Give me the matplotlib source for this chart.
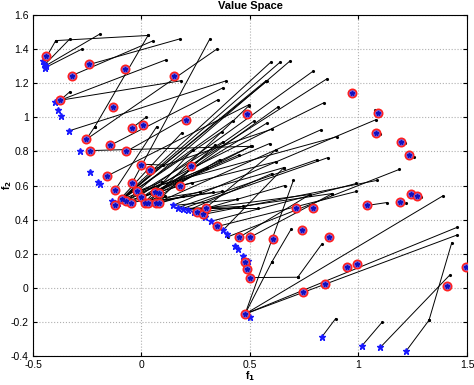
import matplotlib
matplotlib.use("Agg")
import matplotlib.pyplot as plt

# ---- data (f1, f2) ----
front_f1 = [-0.455, -0.45, -0.445, -0.44, -0.40, -0.385, -0.37, -0.335, -0.285, -0.235, -0.20, -0.19,
            -0.135, -0.12, -0.11, 0.145, 0.168, 0.19, 0.214, 0.24, 0.27, 0.293, 0.32, 0.347, 0.375,
            0.395, 0.43, 0.445, 0.467, 0.49, 0.48, 0.50, 0.83, 1.016, 1.10, 1.22]
front_f2 = [1.33, 1.31, 1.29, 1.30, 1.09, 1.04, 1.01, 0.92, 0.80, 0.68, 0.62, 0.61,
            0.51, 0.495, 0.50, 0.483, 0.47, 0.465, 0.454, 0.445, 0.436, 0.413, 0.39, 0.36, 0.337,
            0.313, 0.243, 0.225, 0.185, 0.155, -0.16, -0.17, -0.29, -0.34, -0.35, -0.37]

circ_f1 = [-0.44, -0.24, -0.32, -0.075, 0.15, -0.375, -0.13, -0.045, 0.005, 0.205, -0.255, -0.235,
           -0.145, -0.07, 0.0, 0.04, 0.227, -0.16, -0.045, 0.177, -0.12, -0.02, 0.06, 0.08, 0.0,
           -0.09, -0.07, -0.05, -0.12, 0.015, 0.03, 0.065, 0.08, 0.255, 0.283, 0.297, 0.35, 0.45,
           0.50, 0.477, 0.486, 0.50, 0.477, 0.97, 1.09, 1.08, 1.197, 1.235, 0.486, 1.24, 1.27,
           1.19, 1.04, 0.712, 0.79, 0.74, 0.865, 0.605, 0.947, 0.993, 1.497, 1.41, 0.846, 0.745]
circ_f2 = [1.36, 1.31, 1.245, 1.285, 1.24, 1.10, 1.06, 0.935, 0.955, 0.985, 0.87, 0.805,
           0.835, 0.80, 0.72, 0.69, 0.717, 0.655, 0.615, 0.597, 0.575, 0.565, 0.56, 0.555, 0.53,
           0.52, 0.51, 0.50, 0.485, 0.50, 0.50, 0.495, 0.495, 0.442, 0.43, 0.47, 0.36, 0.296,
           0.296, 0.15, 0.11, 0.06, -0.154, 1.14, 1.027, 0.91, 0.857, 0.78, 1.02, 0.553, 0.54,
           0.506, 0.483, 0.47, 0.47, 0.337, 0.30, 0.285, 0.12, 0.138, 0.12, 0.009, 0.02, -0.026]

seg_f1_from = [-0.44, -0.395, -0.445, -0.445, -0.445, 0.03, -0.215, -0.32, -0.375, -0.375, -0.24,
               -0.045, -0.335, -0.255, -0.375, -0.045, -0.235,
               -0.12, -0.12, -0.09, -0.07, -0.05, 0.0, -0.09, -0.07, 0.015, 0.03, 0.065, 0.145,
               -0.02, 0.06, 0.08, -0.05, 0.168, 0.19, 0.08, 0.40, 0.32, 0.283, 0.214, 0.35, 0.255,
               -0.12, -0.12, -0.09, -0.07, 0.0, 0.015, 0.03, 0.065, -0.12, -0.05, 0.015, 0.03,
               0.145, 0.168, 0.19, 0.065, 0.08, -0.02, 0.0, -0.145, -0.07, -0.16,
               0.97, 1.09, 1.08, 1.197, 1.235, 1.27, 1.19, 1.04,
               0.477, 0.477, 0.477, 0.50, 0.72, 0.477, 0.60, 0.477, 0.83, 1.016, 1.10, 1.22, 1.325,
               0.297, 0.45, 0.50, 0.375,
               -0.12, -0.09, 0.0, 0.04, 0.177, 0.227, 0.214, 0.24]
seg_f2_from = [1.35, 1.45, 1.31, 1.30, 1.29, 1.48, 0.945, 1.245, 1.10, 1.10, 1.31,
               0.61, 0.92, 0.87, 1.10, 0.935, 0.805,
               0.49, 0.49, 0.52, 0.51, 0.50, 0.53, 0.52, 0.51, 0.50, 0.50, 0.495, 0.483,
               0.565, 0.56, 0.555, 0.50, 0.47, 0.465, 0.495, 0.30, 0.39, 0.43, 0.454, 0.36, 0.44,
               0.577, 0.49, 0.52, 0.51, 0.53, 0.50, 0.50, 0.495, 0.49, 0.50, 0.50, 0.50,
               0.483, 0.47, 0.465, 0.495, 0.495, 0.565, 0.725, 0.835, 0.80, 0.655,
               1.14, 1.027, 0.91, 0.857, 0.78, 0.54, 0.506, 0.483,
               -0.154, -0.154, -0.154, 0.06, 0.062, -0.154, 0.15, -0.154, -0.29, -0.34, -0.35, -0.37, -0.19,
               0.47, 0.296, 0.296, 0.337,
               0.49, 0.52, 0.53, 0.69, 0.597, 0.717, 0.454, 0.445]
seg_f1_to = [-0.395, 0.03, -0.33, -0.19, -0.275, -0.215, -0.255, 0.052, 0.112, -0.33, 0.177,
             0.315, 0.39, 0.347, 0.18, 0.02, 0.504,
             0.58, 0.597, 0.64, 0.684, 0.79, 0.855, 0.573, 0.84, 0.63, 0.495, 0.827, 1.08,
             0.90, 0.58, 0.51, 0.59, 0.81, 0.86, 0.656, 1.187, 0.99, 1.085, 0.776, 0.99, 0.88,
             0.07, 0.186, 0.37, 0.376, 0.504, 0.237, 0.36, 0.34, 0.232, 0.27, 0.33, 0.37,
             0.44, 0.537, 0.467, 0.19, 0.107, 0.094, 0.10, 0.375, 0.352, 0.495,
             0.955, 1.075, 1.10, 1.215, 1.255, 1.29, 1.22, 1.13,
             1.39, 1.455, 1.455, 0.72, 0.83, 0.60, 0.69, 0.70, 0.895, 1.11, 1.42, 1.325, 1.43,
             0.62, 0.776, 0.88, 0.656,
             0.42, 0.30, 0.45, 0.60, 0.62, 0.52, 0.60, 0.66]
seg_f2_to = [1.45, 1.48, 1.46, 1.49, 1.40, 0.945, 0.87, 1.448, 1.337, 1.15, 1.46,
             1.46, 1.214, 1.40, 1.214, 1.0, 0.83,
             1.214, 1.325, 1.325, 1.33, 1.27, 1.226, 1.214, 1.085, 1.062, 1.068, 0.927, 0.986,
             0.886, 0.968, 0.834, 0.846, 0.752, 0.764, 0.705, 0.694, 0.612, 0.63, 0.547, 0.565, 0.553,
             0.945, 0.91, 0.916, 0.857, 0.83, 0.81, 0.752, 0.84, 0.617, 0.56, 0.56, 0.565,
             0.518, 0.47, 0.477, 0.536, 0.536, 0.623, 0.72, 1.173, 1.103, 1.074,
             1.15, 1.04, 0.905, 0.85, 0.77, 0.53, 0.495, 0.50,
             0.54, 0.355, 0.31, 0.062, 0.255, 0.15, 0.345, 0.63, -0.18, -0.20, 0.074, -0.19, 0.265,
             0.81, 0.547, 0.553, 0.705,
             0.98, 0.70, 0.78, 0.93, 0.74, 0.98, 0.67, 0.60]

x_ticks = [-0.5, 0, 0.5, 1, 1.5]
x_tick_labels = ["-0.5", "0", "0.5", "1", "1.5"]
y_ticks = [-0.4, -0.2, 0, 0.2, 0.4, 0.6, 0.8, 1, 1.2, 1.4, 1.6]
y_tick_labels = ["-0.4", "-0.2", "0", "0.2", "0.4", "0.6", "0.8", "1", "1.2", "1.4", "1.6"]

plt.rcParams['font.family'] = ['Liberation Sans', 'DejaVu Sans']

fig = plt.figure(figsize=(4.74, 3.85), dpi=100)
ax = fig.add_axes([0.0696, 0.0753, 0.9156, 0.8857])

for xa, ya, xb, yb in zip(seg_f1_from, seg_f2_from, seg_f1_to, seg_f2_to):
    ax.plot([xa, xb], [ya, yb], '-', color='black', lw=0.7, marker='.', ms=2.5, zorder=2)

ax.plot(front_f1, front_f2, linestyle='none', marker='*', ms=5, color='#1a1aff',
        mec='#1a1aff', zorder=3)
ax.plot(circ_f1, circ_f2, linestyle='none', marker='o', ms=6, mfc='#7f6ae0',
        mec='#ff2020', mew=1.2, zorder=4)
ax.plot(circ_f1, circ_f2, linestyle='none', marker='*', ms=3.5, color='#1010c0', zorder=5)

ax.set_xlim(-0.5, 1.5)
ax.set_ylim(-0.4, 1.6)
ax.set_xticks(x_ticks)
ax.set_xticklabels(x_tick_labels)
ax.set_yticks(y_ticks)
ax.set_yticklabels(y_tick_labels)
ax.tick_params(direction='in', top=True, right=True, labelsize=7.5, length=3)
ax.tick_params(axis='x', pad=3)
ax.tick_params(axis='y', pad=3)
ax.grid(True, linestyle=':', color='#b0b0b0', lw=0.8)
ax.set_axisbelow(True)
for s in ax.spines.values():
    s.set_linewidth(0.8)

ax.set_title("Value Space", fontsize=8, fontweight='bold', pad=4)
ax.set_xlabel("f$_\\mathbf{1}$", fontsize=7.5, fontweight='bold')
ax.set_ylabel("f$_\\mathbf{2}$", fontsize=7.5, fontweight='bold')
ax.xaxis.set_label_coords(0.5, -0.04)
ax.yaxis.set_label_coords(-0.043, 0.5)

fig.savefig("out.png", dpi=100)
